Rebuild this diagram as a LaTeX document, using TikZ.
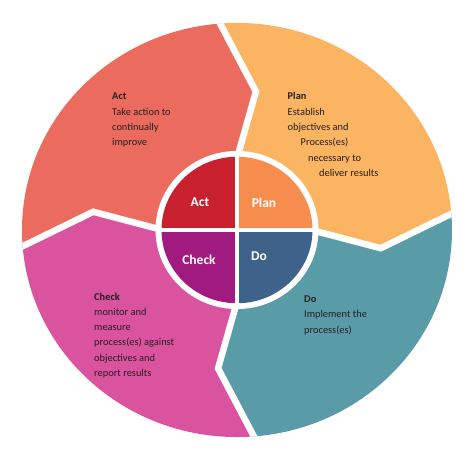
\documentclass[tikz,border=0pt]{standalone}
\usepackage{fontspec}
\setmainfont{Carlito}
\definecolor{actouter}{RGB}{236,107,95}
\definecolor{planouter}{RGB}{251,180,98}
\definecolor{doouter}{RGB}{90,155,168}
\definecolor{checkouter}{RGB}{217,83,158}
\definecolor{actinner}{RGB}{200,32,46}
\definecolor{planinner}{RGB}{246,140,78}
\definecolor{doinner}{RGB}{62,98,138}
\definecolor{checkinner}{RGB}{160,26,128}
\definecolor{bodytext}{RGB}{38,30,34}

\begin{document}
\begin{tikzpicture}[
  x=1pt, y=1pt,
  sep/.style={white, line width=6.5pt, line join=miter},
  cross/.style={white, line width=4.7pt},
  desc/.style={font=\fontsize{10.4}{15.3}\selectfont, text=bodytext,
               align=left, anchor=base west, inner sep=0pt},
  quad/.style={font=\fontsize{13.5}{16}\selectfont\bfseries, text=white, inner sep=0pt}
]
  \useasboundingbox (-237,-230) rectangle (237,230);

  %% -- Outer ring
  \begin{scope}[yscale=0.963]
    \clip (0,0) circle (215);
    \fill[actouter]   (0,0) -- (181:70) -- (172.5:145) -- (184.5:215) -- (184.5:260)
                      -- (135:340) -- (94.5:260) -- (94.5:215) -- (82.5:145) -- (91:70) -- cycle;
    \fill[planouter]  (0,0) -- (91:70) -- (82.5:145) -- (94.5:215) -- (94.5:260)
                      -- (45:340) -- (4.5:260) -- (4.5:215) -- (-7.5:145) -- (1:70) -- cycle;
    \fill[doouter]    (0,0) -- (1:70) -- (-7.5:145) -- (4.5:215) -- (4.5:260)
                      -- (-45:340) -- (-85.5:260) -- (-85.5:215) -- (-97.5:145) -- (-89:70) -- cycle;
    \fill[checkouter] (0,0) -- (-89:70) -- (-97.5:145) -- (-85.5:215) -- (-85.5:260)
                      -- (-135:340) -- (184.5:260) -- (184.5:215) -- (172.5:145) -- (181:70) -- cycle;

    %% chevron gaps
    \draw[sep] (91:70)  -- (82.5:145)  -- (94.5:215)  -- (94.5:260);
    \draw[sep] (1:70)   -- (-7.5:145)  -- (4.5:215)   -- (4.5:260);
    \draw[sep] (-89:70) -- (-97.5:145) -- (-85.5:215) -- (-85.5:260);
    \draw[sep] (181:70) -- (172.5:145) -- (184.5:215) -- (184.5:260);
  \end{scope}

  %% -- Inner circle
  \begin{scope}[yscale=0.97]
    \fill[white] (0,0) circle (81.5);
    \begin{scope}
      \clip (0,0) circle (75.5);
      \fill[actinner]   (-80,0) rectangle (0,80);
      \fill[planinner]  (0,0) rectangle (80,80);
      \fill[doinner]    (0,-80) rectangle (80,0);
      \fill[checkinner] (-80,-80) rectangle (0,0);
    \end{scope}
    \draw[cross] (-80,0) -- (80,0);
    \draw[cross] (0,-80) -- (0,80);
  \end{scope}

  \node[quad] (actq)   at (-37,28)  {Act};
  \node[quad] (planq)  at (27,27)   {Plan};
  \node[quad] (checkq) at (-38,-30) {Check};
  \node[quad] (doq)    at (22,-26)  {Do};

  %% Descriptions (anchored at the last baseline)
  \node[desc] (acttext) at (-125,84.1) {\textbf{Act}\\Take action to\\continually\\improve};
  \node[desc] (plantext) at (50.5,53.5) {\textbf{Plan}\\Establish\\objectives and\\
    \hspace*{13pt}Process(es)\\\hspace*{20.5pt}necessary to\\\hspace*{31.5pt}deliver results};
  \node[desc] (checktext) at (-143,-146.5) {\textbf{Check}\\monitor and\\measure\\
    process(es) against\\objectives and\\report results};
  \node[desc] (dotext) at (67,-103.1) {\textbf{Do}\\Implement the\\process(es)};

\end{tikzpicture}
\end{document}
